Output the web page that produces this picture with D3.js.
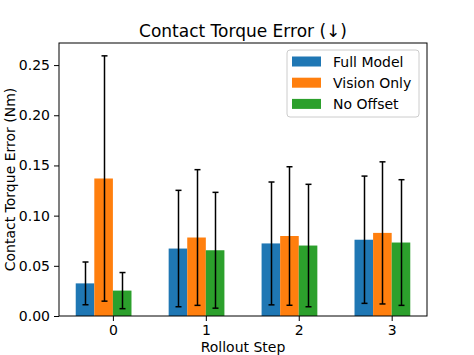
<!DOCTYPE html>
<html><head><meta charset="utf-8">
<script src="https://cdn.jsdelivr.net/npm/d3@7"></script>
<style>body{margin:0;background:#fff}svg{display:block}text{font-family:"DejaVu Sans",sans-serif}</style>
</head><body><svg id="c" width="474" height="355"></svg>
<script>
const steps = [0, 1, 2, 3];
const series = ["Full Model", "Vision Only", "No Offset"];
const colors = ["#1f77b4", "#ff7f0e", "#2ca02c"];
const fullMean = [0.0325, 0.0672, 0.0723, 0.0760];
const fullStd = [0.0213, 0.0580, 0.0612, 0.0634];
const visionMean = [0.1370, 0.0782, 0.0797, 0.0828];
const visionStd = [0.1222, 0.0676, 0.0690, 0.0708];
const noOffMean = [0.0253, 0.0655, 0.0702, 0.0732];
const noOffStd = [0.0180, 0.0577, 0.0610, 0.0626];
const yTicks = [0.00, 0.05, 0.10, 0.15, 0.20, 0.25];

const means = [fullMean, visionMean, noOffMean];
const stds = [fullStd, visionStd, noOffStd];
const W = 0.2;
const svg = d3.select("#c");
const L = 59, R = 427, T = 43, B = 316;
const x = d3.scaleLinear().domain([-0.58, 3.38]).range([L, R]);
const y = d3.scaleLinear().domain([0, 0.272]).range([B, T]);

const g = svg.append("g");
series.forEach((s, si) => {
  steps.forEach((st, i) => {
    const x0 = st + (si - 2) * W;
    g.append("rect").attr("x", x(x0)).attr("width", x(x0 + W) - x(x0))
      .attr("y", y(means[si][i])).attr("height", y(0) - y(means[si][i]))
      .attr("fill", colors[si]);
  });
});
series.forEach((s, si) => {
  steps.forEach((st, i) => {
    const cx = Math.round(x(st + (si - 2) * W + W / 2)) + 0.5;
    const lo = y(Math.max(0, means[si][i] - stds[si][i])), hi = y(means[si][i] + stds[si][i]);
    g.append("line").attr("x1", cx).attr("x2", cx).attr("y1", lo).attr("y2", hi).attr("stroke", "#000").attr("stroke-width", 1.5);
    [lo, hi].forEach(v => g.append("line").attr("x1", cx - 3).attr("x2", cx + 3).attr("y1", v).attr("y2", v).attr("stroke", "#000").attr("stroke-width", 1.5));
  });
});

// frame
svg.append("rect").attr("x", L).attr("y", T).attr("width", R - L).attr("height", B - T)
  .attr("fill", "none").attr("stroke", "#000").attr("stroke-width", 1);

const xa = svg.append("g").attr("transform", `translate(0,${B})`)
  .call(d3.axisBottom(x).tickValues(steps).tickFormat(d3.format("d")).tickSize(5).tickPadding(4));
const ya = svg.append("g").attr("transform", `translate(${L},0)`)
  .call(d3.axisLeft(y).tickValues(yTicks).tickFormat(d3.format(".2f")).tickSize(5).tickPadding(4));
[xa, ya].forEach(a => {
  a.select(".domain").remove();
  a.selectAll("text").attr("font-size", 14).attr("fill", "#000").style("font-family", "DejaVu Sans");
  a.selectAll("line").attr("stroke", "#000");
});

svg.append("text").attr("x", (L + R) / 2).attr("y", 36.5).attr("text-anchor", "middle")
  .attr("font-size", 17).text("Contact Torque Error (↓)");
svg.append("text").attr("x", (L + R) / 2).attr("y", 352).attr("text-anchor", "middle")
  .attr("font-size", 14).text("Rollout Step");
svg.append("text").attr("transform", `translate(15,${(T + B) / 2}) rotate(-90)`).attr("text-anchor", "middle")
  .attr("font-size", 14).text("Contact Torque Error (Nm)");

// legend
const lg = svg.append("g");
lg.append("rect").attr("x", 287).attr("y", 50).attr("width", 132).attr("height", 67).attr("rx", 3)
  .attr("fill", "#fff").attr("fill-opacity", 0.8).attr("stroke", "#ccc");
series.forEach((s, si) => {
  const cy = 61.5 + si * 21.2;
  lg.append("rect").attr("x", 292).attr("y", cy - 5).attr("width", 29).attr("height", 10).attr("fill", colors[si]);
  lg.append("text").attr("x", 333).attr("y", cy + 5).attr("font-size", 14).text(s);
});
</script></body></html>
